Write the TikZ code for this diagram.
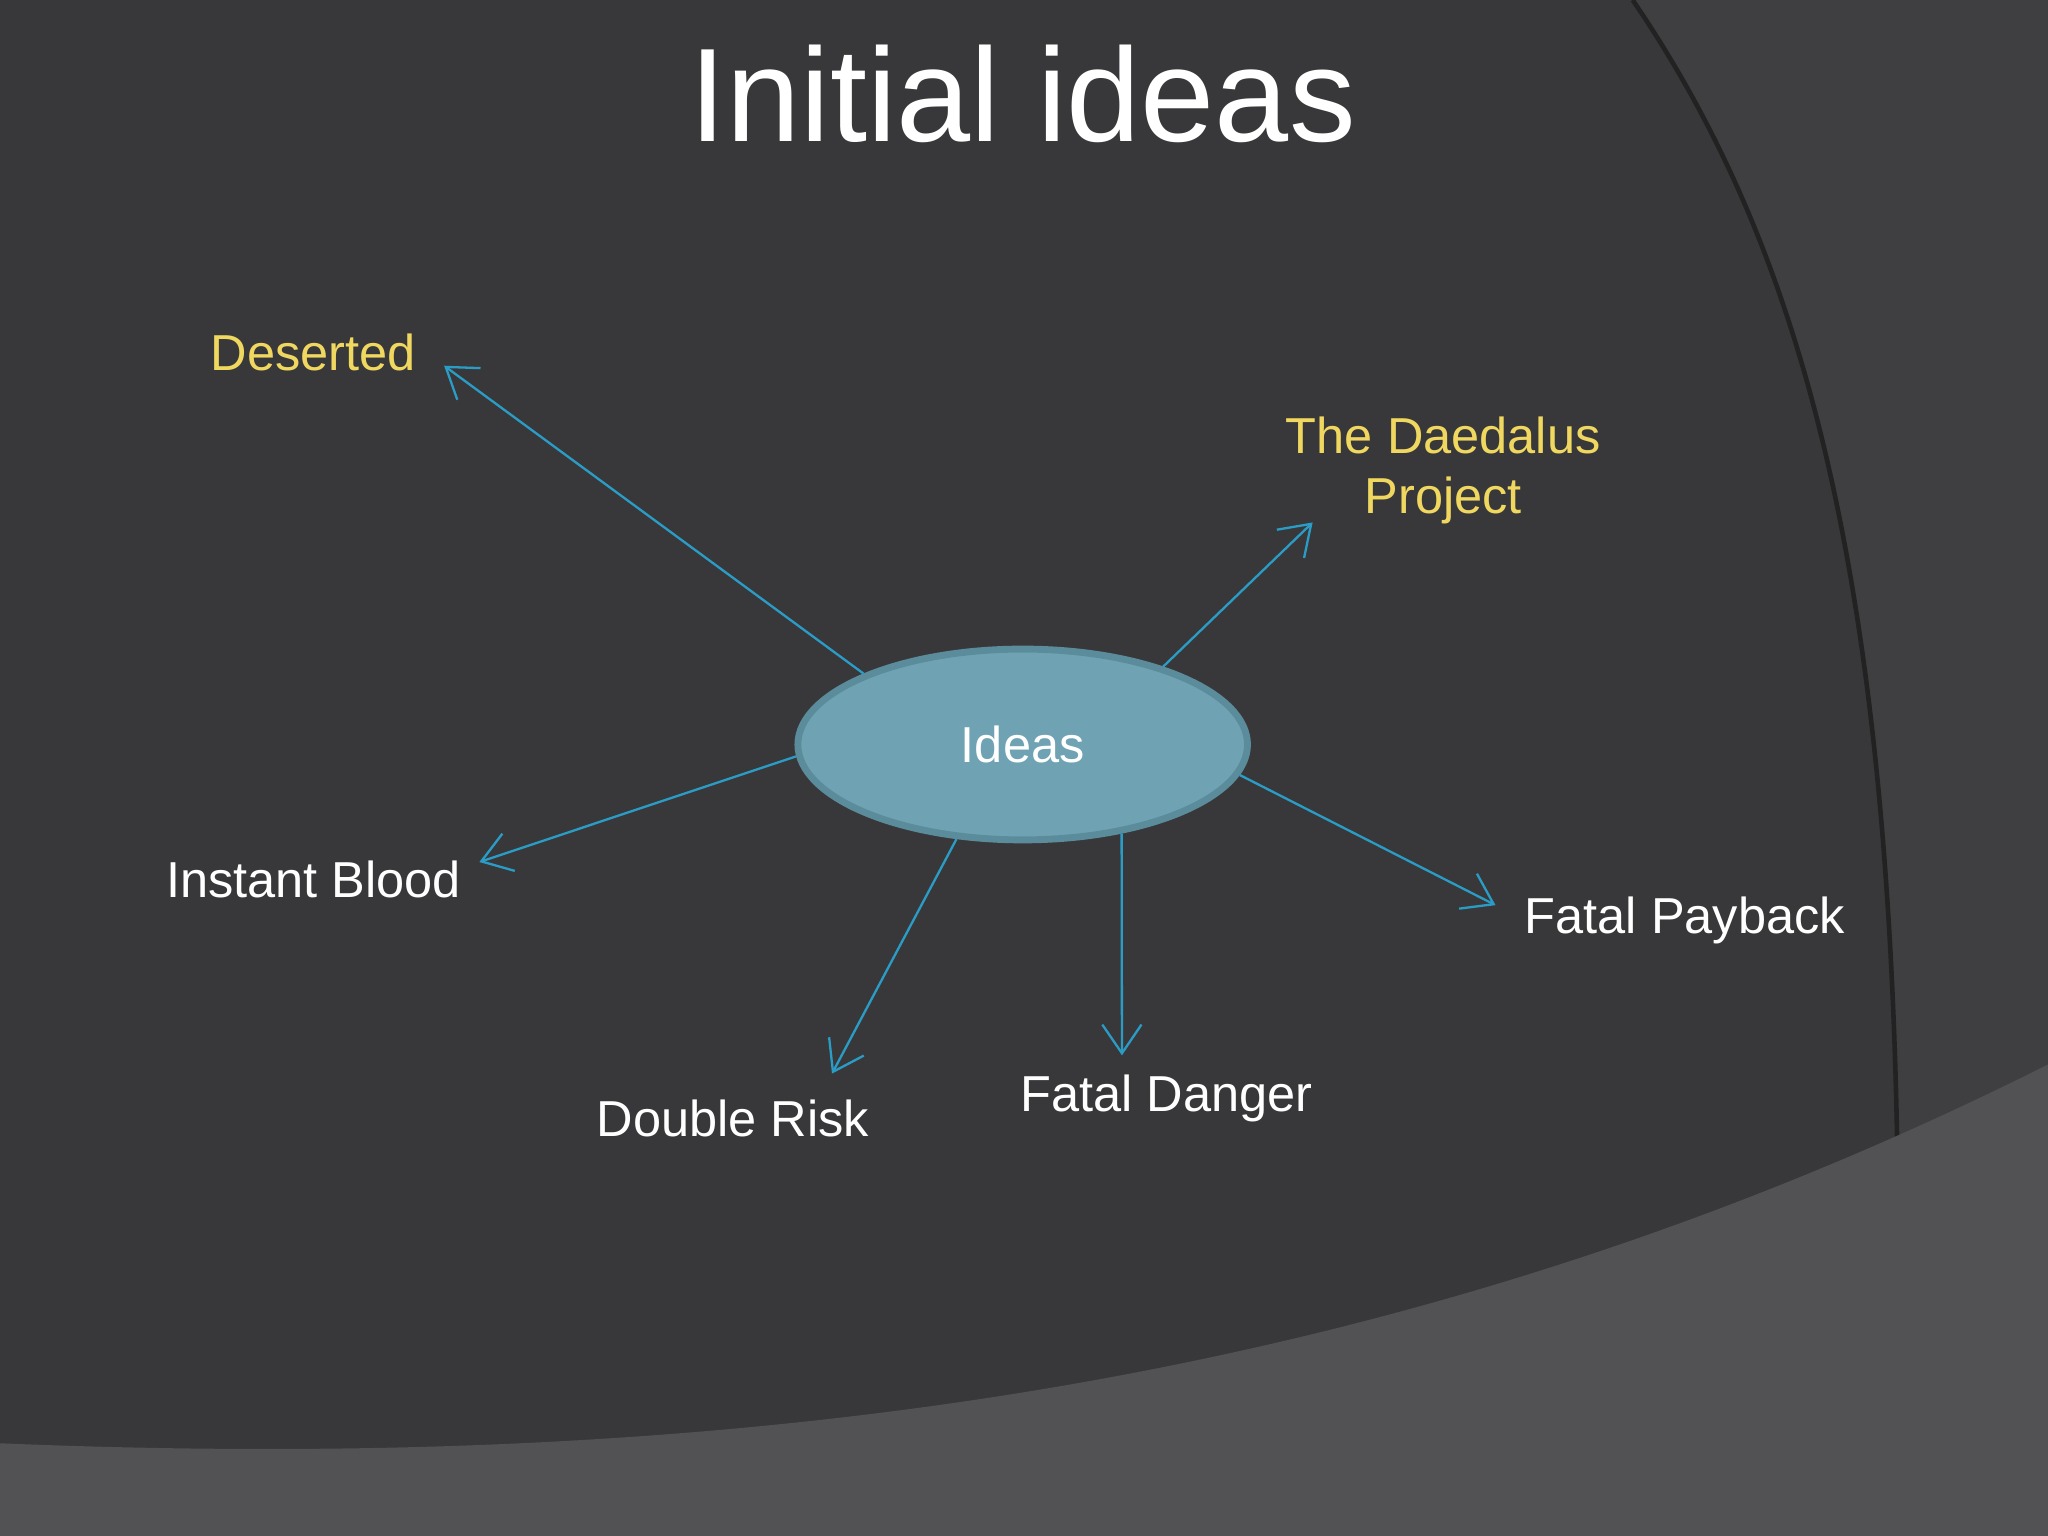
\documentclass[tikz,border=0pt]{standalone}
\usepackage{fontspec}
\setmainfont{Liberation Sans}
\usetikzlibrary{arrows.meta,shapes.geometric}
\definecolor{bgA}{HTML}{38383A}
\definecolor{bgB}{HTML}{3F3F41}
\definecolor{bgC}{HTML}{525254}
\definecolor{ellf}{HTML}{6FA3B3}
\definecolor{elld}{HTML}{5B8C9C}
\definecolor{arr}{HTML}{2A9CC6}
\definecolor{yel}{HTML}{F0D860}
\tikzset{lab/.style={font=\fontsize{11}{13}\selectfont,text=white,align=center},
 ylab/.style={lab,text=yel},
 con/.style={draw=arr,line width=0.5pt,-{Straight Barb[length=2.2mm,width=3mm]}}}
\begin{document}
\begin{tikzpicture}[x=0.01cm,y=-0.01cm]
\useasboundingbox (0,0) rectangle (1568,1176);
\fill[bgA] (0,0) rectangle (1568,1176);
\fill[bgB] (1250,0) .. controls (1400,220) and (1470,520) .. (1450,1176) -- (1568,1176) -- (1568,0) -- cycle;
\draw[black!40!bgA,line width=1pt] (1250,0) .. controls (1400,220) and (1470,520) .. (1450,1176);
\fill[bgC] (0,1105) .. controls (600,1130) and (1100,1050) .. (1568,815) -- (1568,1176) -- (0,1176) -- cycle;
\node[font=\fontsize{29}{34}\selectfont,text=white] (title) at (783,72) {Initial ideas};
\node[ellipse,draw=elld,fill=ellf,line width=1.5pt,inner sep=0pt,
  minimum width=3.44cm,minimum height=1.46cm,lab] (ideas) at (783,570) {Ideas};
\coordinate (e1) at (340,280);
\coordinate (e2) at (1005,400);
\coordinate (e3) at (367,660);
\coordinate (e4) at (637,822);
\coordinate (e5) at (859,808);
\coordinate (e6) at (1145,693);
\node[ylab] (des) at (240,270) {Deserted};
\node[ylab] (dae) at (1105,360) {The Daedalus\\Project};
\node[lab] (ib) at (240,673) {Instant Blood};
\node[lab] (dr) at (561,856) {Double Risk};
\node[lab] (fd) at (893,841) {Fatal Danger};
\node[lab] (fp) at (1290,705) {Fatal Payback};
\draw[con] (ideas.156) -- (e1);
\draw[con] (ideas.29) -- (e2);
\draw[con] (ideas.183) -- (e3);
\draw[con] (ideas.235) -- (e4);
\draw[con] (ideas.318) -- (e5);
\draw[con] (ideas.352) -- (e6);
\end{tikzpicture}
\end{document}
